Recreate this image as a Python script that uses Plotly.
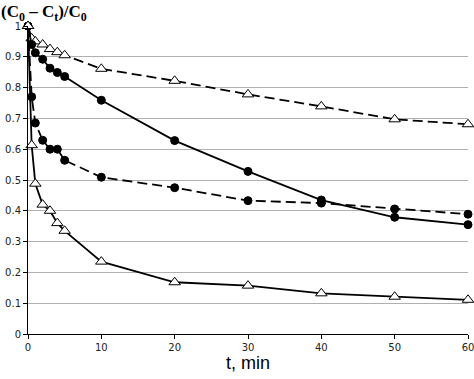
import plotly.graph_objects as go

t = [0, 0.5, 1, 2, 3, 4, 5, 10, 20, 30, 40, 50, 60]
circ_solid = [1.0, 0.94, 0.913, 0.892, 0.863, 0.849, 0.836, 0.759, 0.628, 0.528, 0.435, 0.379, 0.355]
circ_dash = [1.0, 0.77, 0.685, 0.629, 0.60, 0.60, 0.564, 0.509, 0.475, 0.433, 0.425, 0.406, 0.389]
tri_dash = [1.0, 0.96, 0.95, 0.94, 0.925, 0.915, 0.905, 0.861, 0.822, 0.778, 0.739, 0.697, 0.681]
tri_solid = [1.0, 0.613, 0.488, 0.42, 0.40, 0.36, 0.335, 0.235, 0.168, 0.157, 0.132, 0.121, 0.111]

x_ticks = [0, 10, 20, 30, 40, 50, 60]
y_ticks = [0, 0.1, 0.2, 0.3, 0.4, 0.5, 0.6, 0.7, 0.8, 0.9, 1]
y_tick_text = ["0", "0.1", "0.2", "0.3", "0.4", "0.5", "0.6", "0.7", "0.8", "0.9", "1"]

fig = go.Figure()

def add(y, dash, symbol, size):
    fig.add_trace(go.Scatter(
        x=t, y=y, mode="lines+markers",
        line=dict(color="black", width=1.8, dash=dash),
        marker=dict(symbol=symbol, size=size, color="black" if symbol == "circle" else "white",
                    line=dict(color="black", width=1)),
        showlegend=False, cliponaxis=False))

add(tri_dash, "10px,5px", "triangle-up", 10)
add(circ_dash, "10px,5px", "circle", 8)
add(circ_solid, "solid", "circle", 8)
add(tri_solid, "solid", "triangle-up", 10)

fig.update_layout(
    width=474, height=379,
    margin=dict(l=28, r=6, t=26, b=45),
    paper_bgcolor="white", plot_bgcolor="white",
    xaxis=dict(range=[0, 60], tickvals=x_ticks, showgrid=False, automargin=False,
               ticklabeloverflow="allow",
               showline=True, linecolor="black", linewidth=1,
               ticks="outside", ticklen=4, tickcolor="black",
               tickfont=dict(family="DejaVu Sans", size=10, color="#222"),
               title=dict(text="t, min", font=dict(family="Liberation Sans", size=18, color="black"), standoff=2),
               zeroline=False),
    yaxis=dict(range=[0, 1], tickvals=y_ticks, ticktext=y_tick_text, automargin=False,
               ticklabeloverflow="allow",
               showgrid=True, gridcolor="#b0b0b0", gridwidth=1,
               showline=True, linecolor="black", linewidth=1,
               ticks="outside", ticklen=4, tickcolor="black",
               tickfont=dict(family="DejaVu Sans", size=10, color="#222"),
               zeroline=False),
    annotations=[dict(
        text="<b>(C<sub>0</sub> – C<sub>t</sub>)/C<sub>0</sub></b>",
        xref="paper", yref="paper", x=-0.066, y=1.086,
        xanchor="left", yanchor="top", showarrow=False,
        font=dict(family="Liberation Serif", size=17, color="black"))]
)

fig.write_html("out.html", config={"displayModeBar": False},
               post_script="document.body.style.margin='0';document.body.style.overflow='hidden';")
